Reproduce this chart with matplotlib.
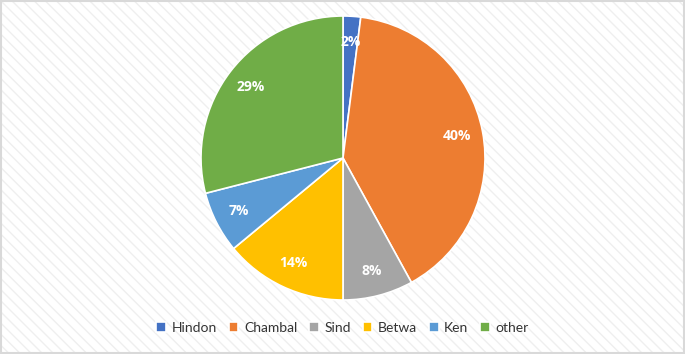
import matplotlib.pyplot as plt
from matplotlib.patches import Rectangle

# === data ===
rivers = ["Hindon", "Chambal", "Sind", "Betwa", "Ken", "other"]
shares = [2, 40, 8, 14, 7, 29]
colors = ["#4472C4", "#ED7D31", "#A5A5A5", "#FFC000", "#5B9BD5", "#70AD47"]

plt.rcParams['font.family'] = ['Lato', 'DejaVu Sans']

fig = plt.figure(figsize=(6.85, 3.54), dpi=100)

# === striped background + border ===
bg = Rectangle((0, 0), 1, 1, transform=fig.transFigure, facecolor="white",
               edgecolor="#efefef", hatch="\\\\\\", linewidth=0, zorder=-2)
fig.patches.append(bg)
border = Rectangle((0.002, 0.003), 0.996, 0.994, transform=fig.transFigure,
                   facecolor="none", edgecolor="#d9d9d9", linewidth=1.5, zorder=-1)
fig.patches.append(border)

# === pie ===
ax = fig.add_axes([(343 - 142) / 685, 1 - (158 + 142) / 354, 284 / 685, 284 / 354])
wedges, texts, autotexts = ax.pie(
    shares, colors=colors, startangle=90, counterclock=False,
    autopct=lambda p: f"{p:.0f}%", pctdistance=0.82,
    wedgeprops=dict(edgecolor="white", linewidth=1.2),
    textprops=dict(color="white", fontsize=10, fontweight="bold",
                   family=["Open Sans", "DejaVu Sans"]))
ax.set_xlim(-1, 1)
ax.set_ylim(-1, 1)
ax.set_aspect("equal")

# === legend ===
fig.legend(wedges, rivers, loc="center", bbox_to_anchor=(0.5, 1 - 328 / 354),
           ncol=6, frameon=False, fontsize=10, handlelength=0.7,
           handleheight=0.7, handletextpad=0.4, columnspacing=0.85,
           labelcolor="#333333")

plt.savefig("out.png", dpi=100)
